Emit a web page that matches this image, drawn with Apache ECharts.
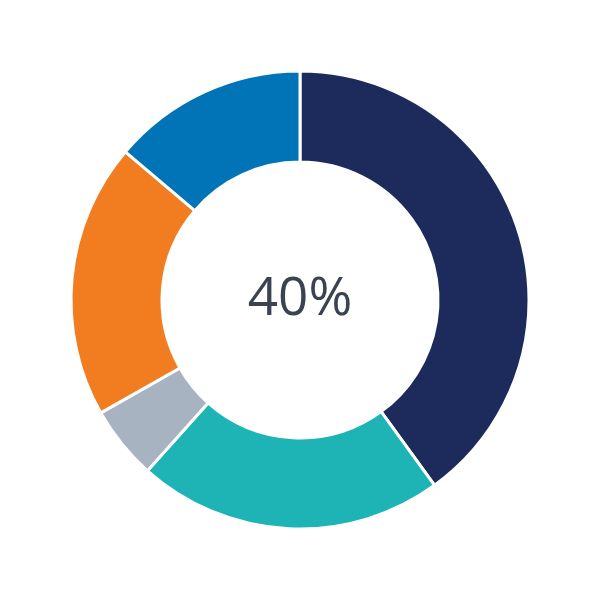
<!DOCTYPE html>
<html>
<head>
<meta charset="utf-8">
<script src="https://cdn.jsdelivr.net/npm/echarts@6/dist/echarts.min.js"></script>
<style>
    html, body { margin: 0; padding: 0; background: #fff; }
    #chart { width: 600px; height: 600px; }
</style>
</head>
<body>
<div id="chart"></div>
<script>
const categories = ['Navy', 'Teal', 'Gray', 'Orange', 'Blue'];
const values = [40, 21.6, 5.2, 19.4, 13.8];
const colors = ['#1c2b5b', '#1eb4b6', '#a8b3c1', '#f27d21', '#0074b7'];
const centerLabel = '40%';

(function (echarts) {
    'use strict';

    const chart = echarts.init(document.getElementById('chart'), null, {renderer: 'canvas'});

    const data = categories.map(function (name, i) {
        return {name: name, value: values[i], itemStyle: {color: colors[i]}};
    });

    chart.setOption({
        backgroundColor: '#ffffff',
        animation: false,
        title: {
            text: centerLabel,
            left: 'center',
            top: 'middle',
            textStyle: {
                fontFamily: 'Open Sans',
                fontWeight: 400,
                fontSize: 53,
                color: '#3b4250'
            }
        },
        series: [{
            type: 'pie',
            center: [300, 300],
            radius: [138, 229],
            startAngle: 90,
            clockwise: true,
            label: {show: false},
            labelLine: {show: false},
            emphasis: {disabled: true},
            itemStyle: {
                borderColor: '#ffffff',
                borderWidth: 3
            },
            data: data
        }]
    });
})(echarts);
</script>
</body>
</html>
